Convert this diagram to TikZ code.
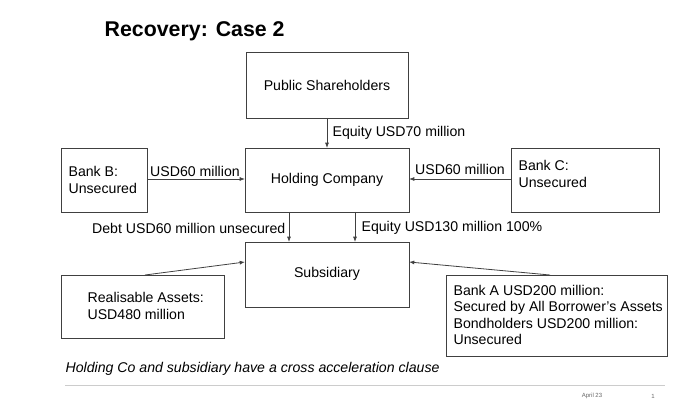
\documentclass[tikz,border=0pt]{standalone}
\usepackage{fontspec}
\setmainfont{Liberation Sans}
\usetikzlibrary{arrows.meta}
\begin{document}
\begin{tikzpicture}[x=0.75pt,y=-0.75pt,
  box/.style={draw=black!75,line width=0.6pt},
  lbl/.style={font=\fontsize{10.6}{12.3}\selectfont,inner sep=1pt},
  arr/.style={draw=black!75,line width=0.6pt,-{Latex[length=4pt,width=3pt]}}]
\useasboundingbox (0,0) rectangle (700,413);
\node[anchor=west,font=\fontsize{16}{18}\bfseries\selectfont] (title) at (100,31) {Recovery: Case 2};
\draw[box] (246,52) rectangle (408,118);
\node[lbl] (ps) at (327,85) {Public Shareholders};
\coordinate (psb) at (327,118);
\draw[box] (245,148) rectangle (409,212);
\node[lbl] (hc) at (327,180) {Holding Company};
\draw[box] (61,148) rectangle (147,212);
\node[lbl,align=left,anchor=west] (bb) at (67,180) {Bank B:\\Unsecured};
\draw[box] (511,148) rectangle (659,212);
\node[lbl,align=left,anchor=west] (bc) at (517,174) {Bank C:\\Unsecured};
\draw[box] (245,242) rectangle (409,307);
\node[lbl] (sub) at (327,274) {Subsidiary};
\draw[box] (61,275) rectangle (224,338);
\node[lbl,align=left,anchor=west] (ra) at (86,306) {Realisable Assets:\\USD480 million};
\draw[box] (446,275) rectangle (667,356);
\node[lbl,align=left,anchor=west] (ba) at (452,315) {Bank A USD200 million:\\Secured by All Borrower's Assets\\Bondholders USD200 million:\\Unsecured};
\coordinate (hcl) at (245,179); \coordinate (hcr) at (409,179);
\coordinate (bbr) at (147,179); \coordinate (bcl) at (511,179);
\coordinate (hct) at (327,148);
\draw[arr] (psb) -- (hct);
\draw[arr] (bbr) -- (hcl);
\draw[arr] (bcl) -- (hcr);
\draw[arr] (289,212) -- (289,242);
\draw[arr] (355,212) -- (355,242);
\draw[arr] (145,275) -- (245,262);
\draw[arr] (550,275) -- (409,262);
\node[lbl,anchor=west] (l1) at (331,133) {Equity USD70 million};
\node[lbl,anchor=south] (l2) at (195,178) {USD60 million};
\node[lbl,anchor=south] (l3) at (460,176) {USD60 million};
\node[lbl,anchor=east] (l4) at (287,228) {Debt USD60 million unsecured};
\node[lbl,anchor=west] (l5) at (360,228) {Equity USD130 million 100\%};
\node[lbl,anchor=west,font=\fontsize{10.6}{12}\itshape\selectfont] (foot) at (64,369) {Holding Co and subsidiary have a cross acceleration clause};
\draw[black!20,line width=0.6pt] (65,385) -- (665,385);
\node[font=\fontsize{4.5}{5}\selectfont,text=black!60] (d) at (592,396) {April 23};
\node[font=\fontsize{4.5}{5}\selectfont,text=black!60] (p) at (653,396) {1};
\end{tikzpicture}
\end{document}
